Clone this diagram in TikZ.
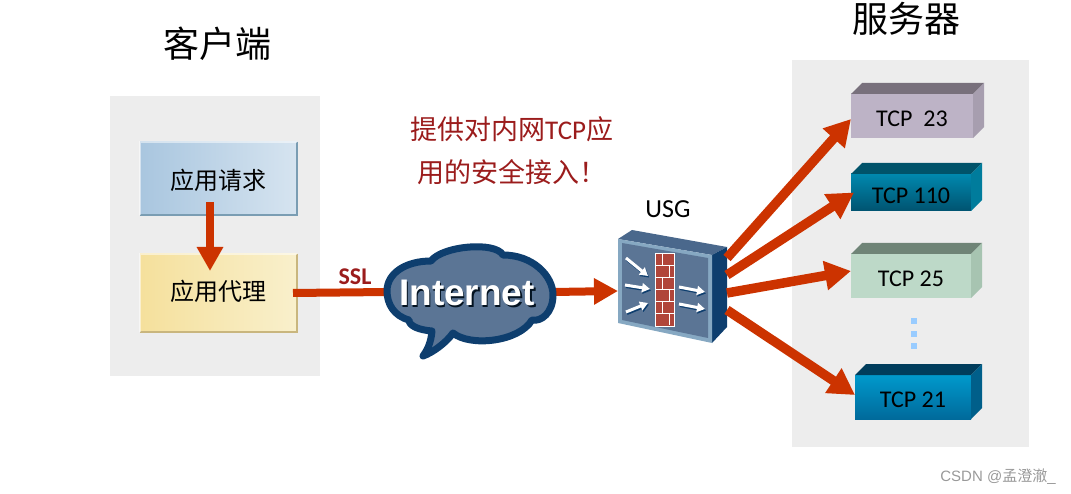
\documentclass[tikz,border=0pt]{standalone}
\usepackage{fontspec}
\setmainfont{Carlito}
\newfontfamily\cjk{Noto Sans CJK SC}
\newfontfamily\inetfont{Liberation Sans}
\usetikzlibrary{arrows.meta}
\definecolor{panelgrey}{HTML}{EDEDED}
\definecolor{arrowred}{HTML}{CC3300}
\definecolor{textred}{HTML}{9B1C1C}
\definecolor{cloudfill}{HTML}{5B7595}
\definecolor{cloudedge}{HTML}{0E3E6E}
\definecolor{reqleft}{HTML}{A9C6DF}
\definecolor{reqright}{HTML}{D6E4F0}
\definecolor{reqedge}{HTML}{7A9DB3}
\definecolor{proxyleft}{HTML}{F5E09C}
\definecolor{proxyright}{HTML}{F9F0CC}
\definecolor{proxyedge}{HTML}{C9B67E}
\definecolor{brick}{HTML}{B0453A}
\definecolor{usgframe}{HTML}{86A8C2}
\definecolor{usgtop}{HTML}{4A688C}
\definecolor{dotblue}{HTML}{99CCFF}
\tikzset{
	panelbg/.style={fill=panelgrey, draw=none},
	appbox/.style={minimum width=157pt, inner sep=0pt, outer sep=0pt, font=\cjk\fontsize{24}{28}\selectfont},
	tcpbox/.style={inner sep=0pt, outer sep=0pt, font=\fontsize{24}{28}\selectfont},
	redarrow/.style={draw=arrowred, line width=8pt, -{Triangle[length=24pt,width=25pt]}},
	bigredarrow/.style={draw=arrowred, line width=9.5pt, -{Triangle[length=26pt,width=28pt]}},
	whitearrow/.style={line width=3pt, -{Triangle[length=8pt,width=9pt]}},
	title/.style={font=\cjk\fontsize{36}{40}\selectfont},
	hint/.style={color=textred, font=\fontsize{27}{31}\selectfont, inner sep=0pt, anchor=west}
}
\begin{document}
\begin{tikzpicture}[x=1pt, y=-1pt]
	\useasboundingbox (0,0) rectangle (1071,494);
	\fill [panelbg] (110,96) rectangle (320,376);
	\fill [panelbg] (792,60) rectangle (1029,447);
	\node [title] (client) at (217,44) {客户端};
	\node [title] (server) at (906,19) {服务器};

	% client side
	\node [appbox, minimum height=73pt, left color=reqleft, right color=reqright] (reqbox) at (218.5,178.5) {\raisebox{-1.5pt}[\height][\depth]{应用请求}};
	\node [appbox, minimum height=78pt, left color=proxyleft, right color=proxyright] (proxybox) at (218.5,293) {\raisebox{2pt}[\height][\depth]{应用代理}};
	\draw [line width=1.5pt, color=reqedge] (reqbox.north east) -- (reqbox.south east) -- (reqbox.south west);
	\draw [line width=1.5pt, color=proxyedge] (proxybox.north east) -- (proxybox.south east) -- (proxybox.south west);
	\draw [line width=1.5pt, color=white, opacity=0.5] (reqbox.south west) -- (reqbox.north west) -- (reqbox.north east);
	\draw [line width=1.5pt, color=white, opacity=0.5] (proxybox.south west) -- (proxybox.north west) -- (proxybox.north east);
	\draw [redarrow] ([xshift=-8.5pt,yshift=13pt]reqbox.south) -- ([xshift=-8.5pt,yshift=-17pt]proxybox.north);

	% invisible frames of the two icons
	\node [minimum width=174pt, minimum height=90pt, inner sep=0pt, outer sep=0pt] (inet) at (470,292) {};
	\node [minimum width=109pt, minimum height=120pt, inner sep=0pt, outer sep=0pt] (usg) at (672.5,291) {};
	\draw [draw=arrowred, line width=8pt] ([xshift=-4pt]proxybox.east) -- ([xshift=4pt]inet.west);
	\node [color=textred, font=\bfseries\fontsize{24}{28}\selectfont] (ssl) at (355,277) {SSL};
	\draw [redarrow] ([xshift=-4pt]inet.east) -- (usg.west);

	% cloud
	\draw [fill=cloudfill, draw=cloudedge, line width=7pt, line join=round] (387,291)
		.. controls (387,273) and (406,261) .. (431,261)
		.. controls (442,246) and (495,241) .. (503,255)
		.. controls (533,255) and (553,276) .. (553,295)
		.. controls (553,313) and (541,322) .. (532,320)
		.. controls (519,342) and (470,347) .. (453,333)
		.. controls (446,343) and (432,353) .. (423,356)
		.. controls (428,349) and (431,342) .. (432,331)
		.. controls (419,330) and (409,326) .. (409,320)
		.. controls (394,316) and (387,304) .. (387,291) -- cycle;
	\node [color=black!70!cloudedge, font=\inetfont\bfseries\fontsize{37}{40}\selectfont] at (468.5,294.5) {Internet};
	\node [color=white, font=\inetfont\bfseries\fontsize{37}{40}\selectfont] (inettext) at (467,293) {Internet};

	% firewall
	\node [font=\fontsize{26}{30}\selectfont] (usglabel) at (668,209) {USG};
	\fill [usgtop] (618,239) -- (632,230) -- (727,247) -- (712,255) -- cycle;
	\fill [cloudedge] (712,255) -- (727,247) -- (727,327) -- (712,343) -- cycle;
	\fill [usgframe] (618,239) -- (712,255) -- (712,343) -- (618,323) -- cycle;
	\fill [cloudfill] (622,243) -- (708,258) -- (708,338) -- (622,320) -- cycle;
	\fill [brick] (655,253) rectangle (674,326);
	\foreach \y in {253,265,277,289,301,313,326}
		\draw [white, line width=0.8pt] (655,\y) -- (674,\y);
	\foreach \y/\xa in {253/662,265/669,277/662,289/669,301/662,313/669}
		\draw [white, line width=0.8pt] (\xa,\y) -- (\xa,\y+12);
	\draw [white, line width=0.8pt] (655,253) rectangle (674,326);
	\foreach \xa/\ya/\xb/\yb in {626/258/648/276, 625/285/650/289, 626/312/648/303, 679/287/705/292, 679/304/705/309} {
		\draw [whitearrow, color=cloudedge] (\xa+1,\ya+1.5) -- (\xb+1,\yb+1.5);
		\draw [whitearrow, color=white] (\xa,\ya) -- (\xb,\yb);
	}

	% servers
	\foreach \name/\cx/\cy/\w/\h/\fa/\fb/\topcol/\sidecol/\lbl in {
		tcpa/912/116/122/44/BDB3C6/BDB3C6/78707C/A79EAF/{TCP\ \ 23},
		tcpb/911/192.5/120/37/0088AE/005370/00536A/007C9C/{TCP 110},
		tcpc/911/276/120/44/BDD9C8/BDD9C8/6F8477/A7C4B1/{TCP 25},
		tcpd/913/397/116/44/0099CC/006A9B/003D5C/005F8A/{TCP 21}} {
		\definecolor{facea}{HTML}{\fa}
		\definecolor{faceb}{HTML}{\fb}
		\definecolor{facetop}{HTML}{\topcol}
		\definecolor{faceside}{HTML}{\sidecol}
		\node [tcpbox, minimum width=\w pt, minimum height=\h pt, top color=facea, bottom color=faceb] (\name) at (\cx,\cy) {\raisebox{-3pt}[\height][\depth]{\lbl}};
		\fill [facetop] (\name.north west) -- ++(11,-11) -- ++(\w,0) -- (\name.north east) -- cycle;
		\fill [faceside] (\name.north east) -- ++(11,-11) -- ++(0,\h) -- (\name.south east) -- cycle;
	}
	\foreach \y in {321,334,346}
		\fill [dotblue] (911,\y-3) rectangle (917,\y+3);

	\draw [bigredarrow] ([yshift=33pt]usg.east) -- ([yshift=-3pt]tcpa.west);
	\draw [bigredarrow] ([yshift=16pt]usg.east) -- ([xshift=3pt]tcpb.west);
	\draw [bigredarrow] ([yshift=-2pt]usg.east) -- ([yshift=5pt]tcpc.west);
	\draw [bigredarrow] ([yshift=-19pt]usg.east) -- ([yshift=2pt]tcpd.west);

	% caption
	\node [hint] (hinta) at (410,129) {{\cjk 提供对内网}TCP{\cjk 应}};
	\node [hint] (hintb) at (417,172) {{\cjk 用的安全接入！}};
	\node [color=black!40, font=\inetfont\fontsize{15}{17}\selectfont] (mark) at (998,477) {CSDN @{\cjk 孟澄澈}\_};
\end{tikzpicture}
\end{document}
